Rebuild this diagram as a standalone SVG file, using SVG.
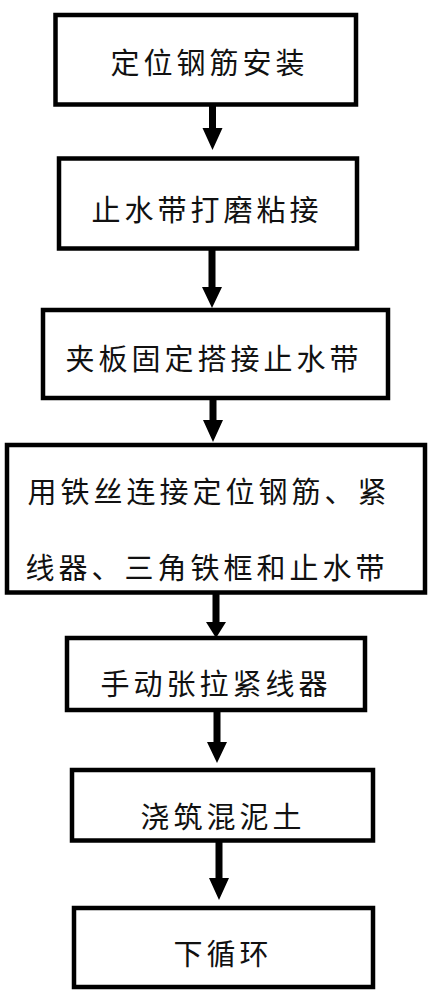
<svg xmlns="http://www.w3.org/2000/svg" width="435" height="1000" viewBox="0 0 435 1000">
<style>
.box{fill:#fff;stroke:#000;stroke-width:4.5}
.lbl{font-family:"Noto Sans CJK SC","Noto Sans",sans-serif;font-size:29px;letter-spacing:4px;fill:#111}
.arr{fill:#000}
</style>
<rect width="435" height="1000" fill="#fff"/>
<g id="connectors">
<path class="arr" d="M209,106H216V128H222.5L212.5,150L202.5,128H209Z"/>
<path class="arr" d="M208.5,250H215.5V287H222L212,308L202,287H208.5Z"/>
<path class="arr" d="M209.5,400H216.5V420H223L213,442L203,420H209.5Z"/>
<path class="arr" d="M212.5,594H219.5V622H226L216,638L206,622H212.5Z"/>
<path class="arr" d="M213.5,712H220.5V742H227L217,763L207,742H213.5Z"/>
<path class="arr" d="M215.5,842H222.5V878H229L219,900L209,878H215.5Z"/>
</g>
<g id="n1"><rect class="box" x="55.5" y="15" width="300.5" height="89.5"/><text class="lbl" x="110.5" y="73.5">定位钢筋安装</text></g>
<g id="n2"><rect class="box" x="59" y="158.5" width="298" height="90"/><text class="lbl" x="91.5" y="220.5">止水带打磨粘接</text></g>
<g id="n3"><rect class="box" x="43" y="310" width="345" height="88"/><text class="lbl" x="65.5" y="369.5">夹板固定搭接止水带</text></g>
<g id="n4"><rect class="box" x="7" y="445" width="418" height="147.5"/><text class="lbl" x="27.5" y="502.5">用铁丝连接定位钢筋、紧</text><text class="lbl" x="25.5" y="578.5">线器、三角铁框和止水带</text></g>
<g id="n5"><rect class="box" x="67" y="638" width="298" height="72"/><text class="lbl" x="100.5" y="695">手动张拉紧线器</text></g>
<g id="n6"><rect class="box" x="72" y="770" width="301" height="70.5"/><text class="lbl" x="140.5" y="827.5">浇筑混泥土</text></g>
<g id="n7"><rect class="box" x="74" y="908" width="299" height="79"/><text class="lbl" x="173.5" y="965">下循环</text></g>
</svg>
